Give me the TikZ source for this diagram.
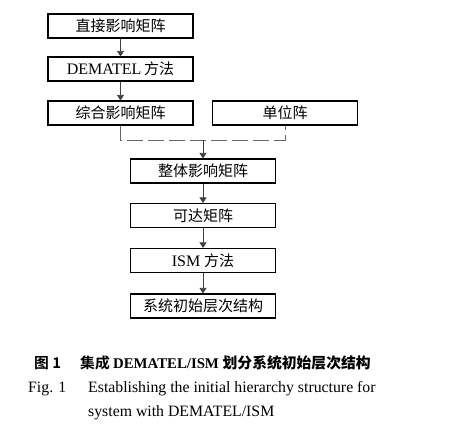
\documentclass[tikz,border=0pt]{standalone}
\usepackage{fontspec}
\setmainfont{Liberation Serif}
\newfontfamily\cjk{Noto Sans CJK SC}
\newfontfamily\cjkb{Noto Sans CJK SC Bold}
\usetikzlibrary{arrows.meta}
\begin{document}
\begin{tikzpicture}[x=1pt,y=-1pt,
  box/.style={draw=black,line width=1.1pt,minimum width=145pt,minimum height=24pt,inner sep=0pt,font=\fontsize{15}{17}\selectfont},
  arr/.style={draw=black!75,line width=0.7pt,-{Triangle[length=5.5pt,width=7pt]}},
  brk/.style={draw=black!60,line width=0.6pt,dash pattern=on 16pt off 5pt},
  captxt/.style={anchor=base west,inner sep=0pt}]
\useasboundingbox (0,0) rectangle (470,428);
\node[box] (b1) at (120.5,26) {\cjk 直接影响矩阵};
\node[box] (b2) at (120.5,69) {\fontsize{16}{17}\selectfont DEMATEL\,\cjk\fontsize{15}{17}\selectfont 方法};
\node[box] (b3) at (120.5,113) {\cjk 综合影响矩阵};
\node[box] (b4) at (285,113) {\cjk 单位阵};
\node[box] (b5) at (203,171) {\cjk 整体影响矩阵};
\node[box] (b6) at (203,215.5) {\cjk 可达矩阵};
\node[box] (b7) at (203,260.5) {\fontsize{16}{17}\selectfont ISM \cjk\fontsize{15}{17}\selectfont 方法};
\node[box] (b8) at (203,306) {\cjk 系统初始层次结构};
\coordinate (jl) at (120.5,140);
\coordinate (jr) at (285,140);
\coordinate (jm) at (203,140);
\draw[arr] (b1) -- (b2);
\draw[arr] (b2) -- (b3);
\draw[brk] (b3.south) -- (jl) -- (jr) -- (b4.south);
\draw[arr] (jm) -- (b5);
\draw[arr] (b5) -- (b6);
\draw[arr] (b6) -- (b7);
\draw[arr] (b7) -- (b8);
\node[captxt] (c1) at (34,368) {\fontsize{14.8}{16}\selectfont\cjkb 图\ 1};
\node[captxt] (c2) at (80,368) {\fontsize{14.8}{16}\selectfont\cjkb 集成 \rmfamily\bfseries DEMATEL/ISM \cjkb 划分系统初始层次结构};
\node[captxt] (c3) at (28,392) {\fontsize{15.8}{17}\selectfont Fig. 1};
\node[captxt] (c4) at (88,392) {\fontsize{15.8}{17}\selectfont Establishing the initial hierarchy structure for};
\node[captxt] (c5) at (88,416) {\fontsize{15.8}{17}\selectfont system with DEMATEL/ISM};
\end{tikzpicture}
\end{document}
